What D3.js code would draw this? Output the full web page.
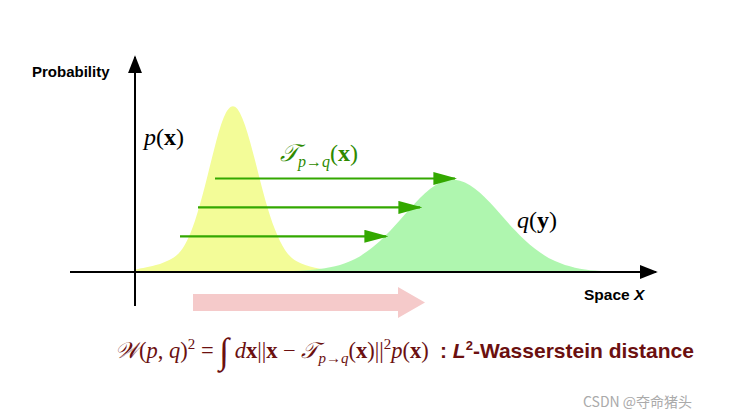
<!DOCTYPE html><html><head><meta charset="utf-8"><script src="https://cdn.jsdelivr.net/npm/d3@7"></script>
<style>body{margin:0;background:#fff}</style></head><body><svg id="c" width="735" height="420"></svg>
<script>
const pX=[0,4,8,10,12,14,16,18,20,22,24,26,28,30,32,36,40,44];
const pY=[0.015,0.035,0.08,0.15,0.29,0.5,0.75,0.95,1.0,0.88,0.66,0.42,0.24,0.12,0.06,0.02,0.006,0];
const qX=[26,30,36,40,44,48,52,56,60,64,68,72,76,80,84,88,92,96,100];
const qY=[0,0.004,0.012,0.03,0.07,0.15,0.27,0.41,0.52,0.56,0.5,0.38,0.24,0.13,0.058,0.022,0.007,0.002,0];
const arrowStart=[16,12.6,9];
const arrowEnd=[64,57,50.2];
const arrowLevel=[0.55,0.38,0.21];

const svg=d3.select("#c");
const x=d3.scaleLinear().domain([0,100]).range([135,635]);
const y=d3.scaleLinear().domain([0,1]).range([272,102]);
const area=d3.area().x(d=>x(d[0])).y0(y(0)).y1(d=>y(d[1])).curve(d3.curveBasis);
svg.append("path").datum(pX.map((v,i)=>[v,pY[i]])).attr("d",area).attr("fill","#f3fc98");
svg.append("path").datum(qX.map((v,i)=>[v,qY[i]])).attr("d",area).attr("fill","#a8f5a8").attr("opacity",0.92);

const defs=svg.append("defs");
defs.append("marker").attr("id","g").attr("viewBox","0 0 10 10").attr("preserveAspectRatio","none").attr("refX",9).attr("refY",5).attr("markerWidth",24).attr("markerHeight",13).attr("markerUnits","userSpaceOnUse").attr("orient","auto")
 .append("path").attr("d","M0,0L10,5L0,10z").attr("fill","#33a800");
defs.append("marker").attr("id","k").attr("viewBox","0 0 10 10").attr("preserveAspectRatio","none").attr("refX",9).attr("refY",5).attr("markerWidth",18).attr("markerHeight",14).attr("markerUnits","userSpaceOnUse").attr("orient","auto")
 .append("path").attr("d","M0,0L10,5L0,10z").attr("fill","#000");

arrowStart.forEach((s,i)=>{
 svg.append("line").attr("x1",x(s)).attr("x2",x(arrowEnd[i])).attr("y1",y(arrowLevel[i])).attr("y2",y(arrowLevel[i]))
  .attr("stroke","#33a800").attr("stroke-width",2.2).attr("marker-end","url(#g)");
});
svg.append("line").attr("x1",70).attr("x2",656).attr("y1",272).attr("y2",272).attr("stroke","#000").attr("stroke-width",2).attr("marker-end","url(#k)");
svg.append("line").attr("x1",135).attr("x2",135).attr("y1",306).attr("y2",57).attr("stroke","#000").attr("stroke-width",2).attr("marker-end","url(#k)");
svg.append("path").attr("d","M193,294H398V287L425,302.5L398,318V311H193Z").attr("fill","#f5caca");

const t=(tx,ty,s,o)=>{const e=svg.append("text").attr("x",tx).attr("y",ty).text(s);Object.entries(o).forEach(([k,v])=>e.attr(k,v));return e;};
t(32,77,"Probability",{"font-family":"Liberation Sans","font-weight":"bold","font-size":15});
const sx=t(584,300,"Space ",{"font-family":"Liberation Sans","font-weight":"bold","font-size":15.5});
sx.append("tspan").attr("font-style","italic").text("X");
const serif={"font-family":"Liberation Serif","font-size":24};
const px=t(144,145,"",serif);px.append("tspan").attr("font-style","italic").text("p");px.append("tspan").text("(");px.append("tspan").attr("font-weight","bold").text("x");px.append("tspan").text(")");
const qy=t(517,228,"",serif);qy.append("tspan").attr("font-style","italic").text("q");qy.append("tspan").text("(");qy.append("tspan").attr("font-weight","bold").text("y");qy.append("tspan").text(")");
const tt=t(280,161,"",Object.assign({},serif,{fill:"#2e8a00"}));
tt.append("tspan").attr("font-style","italic").text("𝒯");
tt.append("tspan").attr("font-style","italic").attr("font-size",16).attr("dy",6).text("p→q");
tt.append("tspan").attr("dy",-6).text("(");tt.append("tspan").attr("font-weight","bold").text("x");tt.append("tspan").text(")");

const red="#6b1010";
const f=t(115,358,"",{"font-family":"Liberation Serif","font-size":22.5,fill:red});
f.append("tspan").attr("font-style","italic").text("𝒲");
f.append("tspan").text("(");f.append("tspan").attr("font-style","italic").text("p");f.append("tspan").text(", ");
f.append("tspan").attr("font-style","italic").text("q");f.append("tspan").text(")");
f.append("tspan").attr("font-size",15).attr("dy",-9).text("2");
f.append("tspan").attr("dy",9).text(" = ");
f.append("tspan").attr("font-size",36).attr("dy",5).text("∫");
f.append("tspan").attr("dy",-5).attr("font-style","italic").text(" d");
f.append("tspan").attr("font-weight","bold").text("x");f.append("tspan").text("||");
f.append("tspan").attr("font-weight","bold").text("x");f.append("tspan").text(" − ");
f.append("tspan").attr("font-style","italic").text("𝒯");
f.append("tspan").attr("font-style","italic").attr("font-size",15).attr("dy",5).text("p→q");
f.append("tspan").attr("dy",-5).text("(");f.append("tspan").attr("font-weight","bold").text("x");f.append("tspan").text(")||");
f.append("tspan").attr("font-size",15).attr("dy",-9).text("2");
f.append("tspan").attr("dy",9).attr("font-style","italic").text("p");f.append("tspan").text("(");f.append("tspan").attr("font-weight","bold").text("x");f.append("tspan").text(")");
const w=t(440,358,": ",{"font-family":"Liberation Sans","font-weight":"bold","font-size":21,fill:red});
w.append("tspan").attr("font-style","italic").text("L");
w.append("tspan").attr("font-size",13).attr("dy",-8).text("2");
w.append("tspan").attr("dy",8).text("-Wasserstein distance");
t(583,407,"CSDN @夺命猪头",{"font-family":"Noto Sans CJK SC","font-size":14,fill:"#aaa"});
</script></body></html>
